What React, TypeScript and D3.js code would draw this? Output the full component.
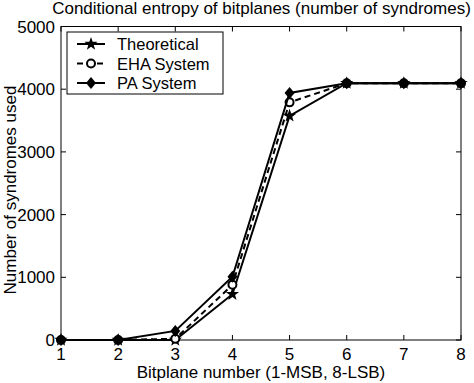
import React from "react";
import * as d3 from "d3";

const bitplanes = [1, 2, 3, 4, 5, 6, 7, 8];
const theoretical = [0, 0, 0, 730, 3575, 4096, 4096, 4096];
const eha = [0, 0, 20, 880, 3790, 4096, 4096, 4096];
const pa = [0, 0, 145, 1010, 3940, 4096, 4096, 4096];
const yTicks = [0, 1000, 2000, 3000, 4000, 5000];
const seriesNames = ["Theoretical", "EHA System", "PA System"];

const W = 474, H = 383;
const L = 61, R = 461, T = 26.5, B = 340;
const FONT = "Liberation Sans, Arial, sans-serif";

function starPath(cx: number, cy: number, r: number) {
  const pts: string[] = [];
  for (let i = 0; i < 10; i++) {
    const rr = i % 2 === 0 ? r : r * 0.4;
    const a = -Math.PI / 2 + (i * Math.PI) / 5;
    pts.push(`${cx + rr * Math.cos(a)},${cy + rr * Math.sin(a)}`);
  }
  return "M" + pts.join("L") + "Z";
}

export default function App() {
  const x = d3.scaleLinear().domain([1, 8]).range([L, R]);
  const y = d3.scaleLinear().domain([0, 5000]).range([B, T]);
  const line = d3.line<number>().x((_, i) => x(bitplanes[i])).y((d) => y(d));
  const series = [
    { name: seriesNames[0], data: theoretical, dash: undefined, marker: "star" },
    { name: seriesNames[1], data: eha, dash: "6,4", marker: "circle" },
    { name: seriesNames[2], data: pa, dash: undefined, marker: "diamond" },
  ];
  const marker = (m: string, cx: number, cy: number, key: any) => {
    if (m === "star") return <path key={key} d={starPath(cx, cy, 7)} fill="black" />;
    if (m === "circle") return <circle key={key} cx={cx} cy={cy} r={4} fill="white" stroke="black" strokeWidth={2} />;
    return <path key={key} d={`M${cx},${cy - 6}L${cx + 5},${cy}L${cx},${cy + 6}L${cx - 5},${cy}Z`} fill="black" />;
  };
  const tl = 5;
  const fs = 17;
  return (
    <svg width={W} height={H} style={{ position: "absolute", left: 0, top: 0 }} fontFamily={FONT}>
      <rect x={0} y={0} width={W} height={H} fill="white" />
      <text x={261.5} y={14} fontSize={fs} textAnchor="middle">Conditional entropy of bitplanes (number of syndromes)</text>
      <rect x={L} y={T} width={R - L} height={B - T} fill="none" stroke="black" strokeWidth={1} />
      {bitplanes.map((b) => (
        <g key={"x" + b}>
          <line x1={x(b)} x2={x(b)} y1={B} y2={B - tl} stroke="black" />
          <line x1={x(b)} x2={x(b)} y1={T} y2={T + tl} stroke="black" />
          <text x={x(b)} y={B + 20} fontSize={fs} textAnchor="middle">{b}</text>
        </g>
      ))}
      {yTicks.map((v) => (
        <g key={"y" + v}>
          <line x1={L} x2={L + tl} y1={y(v)} y2={y(v)} stroke="black" />
          <line x1={R} x2={R - tl} y1={y(v)} y2={y(v)} stroke="black" />
          <text x={L - 6} y={y(v) + 6} fontSize={fs} textAnchor="end">{v}</text>
        </g>
      ))}
      <text x={261} y={378} fontSize={fs} textAnchor="middle">Bitplane number (1-MSB, 8-LSB)</text>
      <text transform={`translate(16,190) rotate(-90)`} fontSize={fs} textAnchor="middle">Number of syndromes used</text>
      {series.map((s, si) => (
        <g key={s.name}>
          <path d={line(s.data) || ""} fill="none" stroke="black" strokeWidth={2} strokeDasharray={s.dash} />
          {s.data.map((d, i) => marker(s.marker, x(bitplanes[i]), y(d), si + "-" + i))}
        </g>
      ))}
      <rect x={67} y={32} width={156} height={62} fill="white" stroke="black" strokeWidth={1} />
      {series.map((s, i) => {
        const ly = 44 + i * 19.5;
        return (
          <g key={"lg" + i}>
            <line x1={77} x2={105} y1={ly} y2={ly} stroke="black" strokeWidth={2} strokeDasharray={s.dash} />
            {marker(s.marker, 91, ly, "lm" + i)}
            <text x={117} y={ly + 6} fontSize={16.5}>{s.name}</text>
          </g>
        );
      })}
    </svg>
  );
}
